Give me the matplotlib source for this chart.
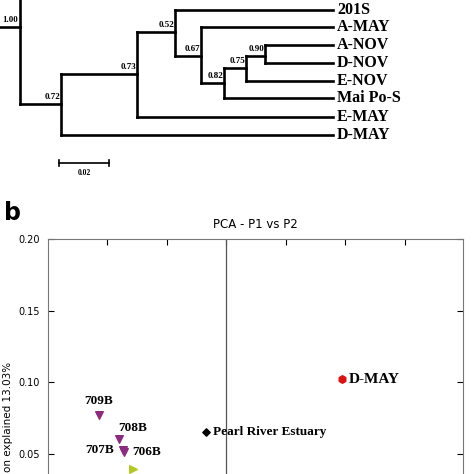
import matplotlib
matplotlib.use("Agg")
import matplotlib.pyplot as plt

# Tree data (pixel-based layout units)
leaves = ["201S", "A-MAY", "A-NOV", "D-NOV", "E-NOV", "Mai Po-S", "E-MAY", "D-MAY"]
leaf_y = [10, 27, 45, 63, 81, 98, 117, 135]
# internal nodes: x, y_top, y_bottom, support
nodes = [
    (61, 74, 135, "0.72"),
    (137, 32, 117, "0.73"),
    (175, 10, 56, "0.52"),
    (201, 27, 83, "0.67"),
    (224, 68, 98, "0.82"),
    (246, 56, 81, "0.75"),
    (265, 45, 63, "0.90"),
]
edges = [
    (175, 10, 333), (201, 27, 333), (265, 45, 333), (265, 63, 333),
    (246, 81, 333), (224, 98, 333), (137, 117, 333), (61, 135, 333),
    (61, 74, 137), (137, 32, 175), (175, 56, 201), (201, 83, 224),
    (224, 68, 246), (246, 56, 265), (20, 104, 61), (0, 27, 20),
]
supp_y = [104, 74, 32, 56, 83, 68, 56]

# PCA data
pca_labels = ["D-MAY", "Pearl River Estuary", "709B", "708B", "707B", "706B", ""]
pca_x = [0.0975, -0.0168, -0.107, -0.090, -0.087, -0.086, -0.078]
pca_y = [0.102, 0.065, 0.077, 0.060, 0.0525, 0.051, 0.039]
pca_marker = ["h", "D", "v", "v", "v", "v", ">"]
pca_color = ["#dd1111", "black", "#8b2a7e", "#8b2a7e", "#8b2a7e", "#8b2a7e", "#b5c722"]

W = H = 474
fig = plt.figure(figsize=(4.74, 4.74), dpi=100)

ax = fig.add_axes([0, 1 - 180 / H, 1, 180 / H])
ax.set_xlim(0, W); ax.set_ylim(180, 0); ax.axis("off")
serif = "Liberation Serif"
LW = 1.9
for px, y, cx in edges:
    ax.plot([px, cx], [y, y], color="black", lw=LW, solid_capstyle="projecting")
ax.plot([20, 20], [0, 104], color="black", lw=LW)
for (x, yt, yb, s), sy in zip(nodes, supp_y):
    ax.plot([x, x], [yt, yb], color="black", lw=LW, solid_capstyle="projecting")
    ax.text(x - 1, sy - 3, s, ha="right", va="bottom", fontsize=6.5, fontweight="bold", family=serif)
ax.text(18, 24, "1.00", ha="right", va="bottom", fontsize=6.5, fontweight="bold", family=serif)
for lab, y in zip(leaves, leaf_y):
    ax.text(337, y, lab, ha="left", va="center", fontsize=11.5, fontweight="bold", family=serif)
ax.plot([59, 109], [163, 163], color="black", lw=1.2)
ax.plot([59, 59], [160, 166], color="black", lw=1.2)
ax.plot([109, 109], [160, 166], color="black", lw=1.2)
ax.text(84, 173, "0.02", ha="center", va="center", fontsize=5.5, fontweight="bold", family=serif)

# PCA panel
fig.text(4 / W, 1 - 213 / H, "b", fontsize=17, fontweight="bold", va="center", ha="left")
fig.text(255 / W, 1 - 225 / H, "PCA - P1 vs P2", fontsize=8.5, ha="center", va="center")
top = 239; bottom = 480
ax2 = fig.add_axes([48 / W, 1 - bottom / H, (463 - 48) / W, (bottom - top) / H])
ymin = 0.2 - (bottom - top) / 71.5 * 0.05
ax2.set_ylim(ymin, 0.2)
ax2.set_xlim(-0.1496, 0.199)
ax2.set_yticks([0.05, 0.10, 0.15, 0.20])
ax2.set_yticklabels(["0.05", "0.10", "0.15", "0.20"], fontsize=7)
ax2.set_xticks([-0.1, -0.05, 0, 0.05, 0.1, 0.15])
ax2.tick_params(axis="x", top=True, bottom=False, labelbottom=False, direction="in", length=4)
ax2.tick_params(axis="y", right=True, direction="in", length=4, pad=6)
ax2.axvline(0, color="#555555", lw=0.9)
for sp in ax2.spines.values():
    sp.set_color("#777777"); sp.set_linewidth(0.8)
for x, y, m, c in zip(pca_x, pca_y, pca_marker, pca_color):
    ax2.scatter([x], [y], marker=m, color=c, s=30 if m != "D" else 14, zorder=3)
offsets = {"D-MAY": (5, 0, "left"), "Pearl River Estuary": (5, 0, "left"),
           "709B": (0, 10, "center"), "708B": (10, 8, "center"),
           "707B": (-6, 0, "right"), "706B": (6, 0, "left")}
for lab, x, y in zip(pca_labels, pca_x, pca_y):
    if lab:
        dx, dy, ha = offsets[lab]
        ax2.annotate(lab, (x, y), xytext=(dx, dy), textcoords="offset points", ha=ha, va="center",
                     fontsize=9.5 if lab != "D-MAY" else 11, fontweight="bold", family=serif)
fig.text(8 / W, 1 - 362 / H, "on explained 13.03%", rotation=90, ha="center", va="top", fontsize=7.5)

fig.savefig("out.png", dpi=100)
